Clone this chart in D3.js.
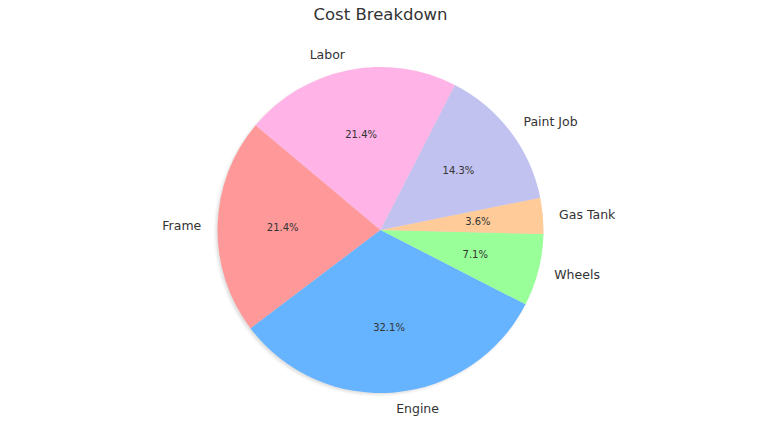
<!DOCTYPE html>
<html lang="en">
<head>
    <meta charset="UTF-8">
    <title>Cost Breakdown</title>
    <script src="https://d3js.org/d3.v7.min.js"></script>
    <style>
        body { margin: 0; background: #fff; }
        text { font-family: "DejaVu Sans", sans-serif; fill: #333; }
    </style>
</head>
<body>
    <svg width="768" height="432"></svg>
    <script>
        // Data (values out of 28)
        const categories = ["Frame", "Engine", "Wheels", "Gas Tank", "Paint Job", "Labor"];
        const values = [6, 9, 2, 1, 4, 6];
        const colors = ["#ff9999", "#66b3ff", "#99ff99", "#ffcc99", "#c2c2f0", "#ffb3e6"];

        const svg = d3.select("svg"),
              cx = 380.5, cy = 230, radius = 163;

        const data = categories.map((c, i) => ({name: c, value: values[i], color: colors[i]}));

        // matplotlib startangle=140, counterclockwise -> d3 angles
        const start = (90 - 140) * Math.PI / 180;
        const pie = d3.pie().sort(null).value(d => d.value)
                      .startAngle(start).endAngle(start - 2 * Math.PI);
        const arcs = pie(data);
        const total = d3.sum(values);

        const arc = d3.arc().innerRadius(0).outerRadius(radius);

        const defs = svg.append("defs");
        defs.append("filter").attr("id", "blur")
            .append("feGaussianBlur").attr("stdDeviation", 1.5);

        const g = svg.append("g").attr("transform", `translate(${cx},${cy})`);

        // soft shadow
        g.append("circle")
         .attr("cx", -2).attr("cy", 2).attr("r", radius)
         .attr("fill", "#000").attr("opacity", 0.12)
         .attr("filter", "url(#blur)");

        g.selectAll(".slice")
         .data(arcs)
         .enter().append("path")
         .attr("class", "slice")
         .attr("d", arc)
         .attr("fill", d => d.data.color);

        const mid = d => (d.startAngle + d.endAngle) / 2;

        // category labels at 1.1 r
        g.selectAll(".label")
         .data(arcs)
         .enter().append("text")
         .attr("class", "label")
         .attr("x", d => 1.1 * radius * Math.sin(mid(d)))
         .attr("y", d => -1.1 * radius * Math.cos(mid(d)))
         .attr("dy", "0.35em")
         .attr("text-anchor", d => Math.sin(mid(d)) > 0 ? "start" : "end")
         .style("font-size", "12.5px")
         .text(d => d.data.name);

        // percentages at 0.6 r
        g.selectAll(".pct")
         .data(arcs)
         .enter().append("text")
         .attr("class", "pct")
         .attr("x", d => 0.6 * radius * Math.sin(mid(d)))
         .attr("y", d => -0.6 * radius * Math.cos(mid(d)))
         .attr("dy", "0.35em")
         .attr("text-anchor", "middle")
         .style("font-size", "10px")
         .text(d => (d.data.value / total * 100).toFixed(1) + "%");

        svg.append("text")
           .attr("x", cx).attr("y", 20)
           .attr("text-anchor", "middle")
           .style("font-size", "16.5px")
           .text("Cost Breakdown");
    </script>
</body>
</html>
